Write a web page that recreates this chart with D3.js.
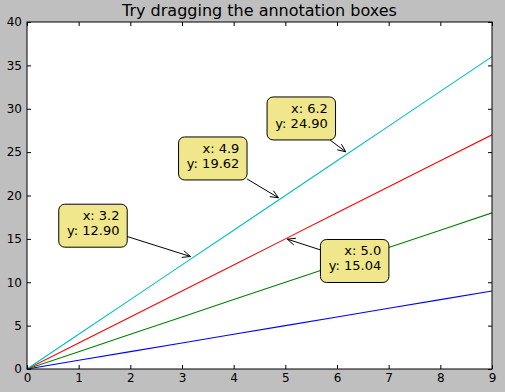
<!DOCTYPE html>
<html><head><meta charset="utf-8">
<script src="https://cdn.jsdelivr.net/npm/d3@7"></script>
<style>html,body{margin:0;padding:0;background:#bfbfbf;}svg{display:block;font-family:"DejaVu Sans",sans-serif;}</style>
</head><body><svg id="c" width="505" height="392"></svg>
<script>
const xs = [0, 1, 2, 3, 4, 5, 6, 7, 8, 9];
const seriesNames = ["y=x", "y=2x", "y=3x", "y=4x"];
const seriesColors = ["#0000ff", "#008000", "#ff0000", "#00bfbf"];
const seriesValues = [
  [0, 1, 2, 3, 4, 5, 6, 7, 8, 9],
  [0, 2, 4, 6, 8, 10, 12, 14, 16, 18],
  [0, 3, 6, 9, 12, 15, 18, 21, 24, 27],
  [0, 4, 8, 12, 16, 20, 24, 28, 32, 36]
];
const xTicks = [0, 1, 2, 3, 4, 5, 6, 7, 8, 9];
const yTicks = [0, 5, 10, 15, 20, 25, 30, 35, 40];
const annX = [3.2, 4.9, 6.2, 5.0];
const annY = [12.90, 19.62, 24.90, 15.04];
const annTextX = [1.277, 3.596, 5.309, 6.342];
const annTextY = [16.52, 24.27, 28.88, 12.45];
const title = "Try dragging the annotation boxes";

(function () {
const svg = d3.select("#c");
const L = 27, R = 492, T = 22, B = 369;
const x = d3.scaleLinear().domain([0, 9]).range([L, R]);
const y = d3.scaleLinear().domain([0, 40]).range([B, T]);

svg.append("rect").attr("width", 505).attr("height", 392).attr("fill", "#bfbfbf");
svg.append("rect").attr("x", L).attr("y", T).attr("width", R - L).attr("height", B - T).attr("fill", "#fff");

svg.append("defs").append("clipPath").attr("id", "clip")
  .append("rect").attr("x", L).attr("y", T).attr("width", R - L).attr("height", B - T);

const line = d3.line().x((d, i) => x(xs[i])).y(d => y(d));
const g = svg.append("g").attr("clip-path", "url(#clip)");
seriesValues.forEach((vals, i) => {
  g.append("path").datum(vals).attr("d", line).attr("fill", "none")
    .attr("stroke", seriesColors[i]).attr("stroke-width", 1.1);
});

const axg = svg.append("g");
const axB = axg.append("g").attr("transform", `translate(0,${B})`)
  .call(d3.axisBottom(x).tickValues(xTicks).tickSizeInner(-4).tickSizeOuter(0).tickPadding(4.5).tickFormat(d3.format("d")));
const axT = axg.append("g").attr("transform", `translate(0,${T})`)
  .call(d3.axisTop(x).tickValues(xTicks).tickSizeInner(-4).tickSizeOuter(0).tickFormat(""));
const axL = axg.append("g").attr("transform", `translate(${L},0)`)
  .call(d3.axisLeft(y).tickValues(yTicks).tickSizeInner(-4).tickSizeOuter(0).tickPadding(5).tickFormat(d3.format("d")));
const axR = axg.append("g").attr("transform", `translate(${R},0)`)
  .call(d3.axisRight(y).tickValues(yTicks).tickSizeInner(-4).tickSizeOuter(0).tickFormat(""));
[axB, axT, axL, axR].forEach(a => {
  a.select(".domain").remove();
  a.selectAll("line").attr("stroke", "#000");
  a.selectAll("text").attr("font-size", 12).attr("font-family", "DejaVu Sans").attr("fill", "#000");
});
svg.append("rect").attr("x", L).attr("y", T).attr("width", R - L).attr("height", B - T)
  .attr("fill", "none").attr("stroke", "#000").attr("stroke-width", 1);

svg.append("text").attr("x", (L + R) / 2).attr("y", 16).attr("text-anchor", "middle")
  .attr("font-size", 16).attr("fill", "#000").text(title);

const annG = svg.append("g");
annX.forEach((ax0, i) => {
  const px = x(ax0), py = y(annY[i]);
  const cx = x(annTextX[i]), cy = y(annTextY[i]);
  const grp = annG.append("g");
  const lines = ["x: " + ax0.toFixed(1), "y: " + annY[i].toFixed(2)];
  const t = grp.append("text").attr("font-size", 13).attr("text-anchor", "end").attr("fill", "#000");
  lines.forEach((s, k) => t.append("tspan").attr("x", 0).attr("y", k * 15).text(s));
  const bb = t.node().getBBox();
  const w = bb.width + 16, h = 43;
  const bx = cx - w / 2, by = cy - h / 2;
  t.attr("transform", `translate(${bx + w - 7.7},${by + 15.7})`);
  const dx = px - cx, dy = py - cy;
  const tx = Math.abs(dx) > 0 ? (w / 2) / Math.abs(dx) : Infinity;
  const ty = Math.abs(dy) > 0 ? (h / 2) / Math.abs(dy) : Infinity;
  const tt = Math.min(tx, ty);
  const sx = cx + dx * tt, sy = cy + dy * tt;
  const len = Math.hypot(px - sx, py - sy);
  const ux = (px - sx) / len, uy = (py - sy) / len;
  const ex = px - ux * 2, ey = py - uy * 2;
  annG.insert("line", ":first-child").attr("x1", sx).attr("y1", sy).attr("x2", ex).attr("y2", ey)
    .attr("stroke", "#000").attr("stroke-width", 1);
  const hl = 8, hw = 3.5;
  const bxh = ex - ux * hl, byh = ey - uy * hl;
  annG.insert("path", ":first-child")
    .attr("d", `M${bxh - uy * hw},${byh + ux * hw}L${ex},${ey}L${bxh + uy * hw},${byh - ux * hw}`)
    .attr("fill", "none").attr("stroke", "#000").attr("stroke-width", 1);
  grp.insert("rect", ":first-child").attr("x", bx).attr("y", by).attr("width", w).attr("height", h)
    .attr("rx", 6).attr("ry", 6).attr("fill", "#f0e68c").attr("stroke", "#000").attr("stroke-width", 1);
});
})();
</script></body></html>
